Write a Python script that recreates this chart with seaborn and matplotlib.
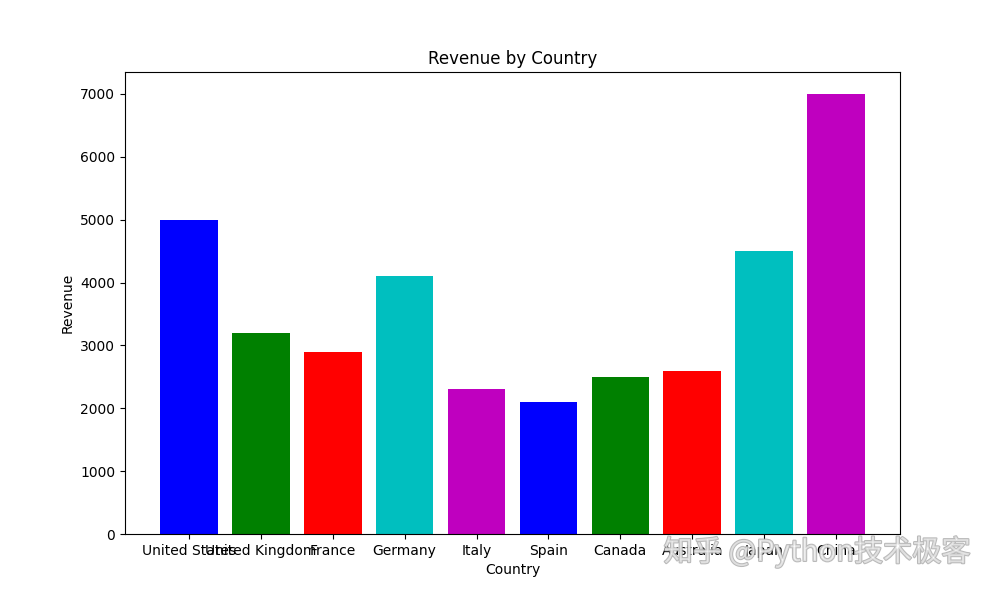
import matplotlib
matplotlib.use("Agg")
import matplotlib.pyplot as plt
import matplotlib.patheffects as pe
import seaborn as sns
import pandas as pd

# data
countries = ["United States", "United Kingdom", "France", "Germany", "Italy",
             "Spain", "Canada", "Australia", "Japan", "China"]
revenue = [5000, 3200, 2900, 4100, 2300, 2100, 2500, 2600, 4500, 7000]
bar_colors = ["b", "g", "r", "c", "m", "b", "g", "r", "c", "m"]

df = pd.DataFrame({"Country": countries, "Revenue": revenue})

fig, ax = plt.subplots(figsize=(10, 6), dpi=100)
sns.barplot(data=df, x="Country", y="Revenue", hue="Country",
            palette=bar_colors, legend=False, width=0.8, saturation=1, ax=ax)

# mimic plain matplotlib margins
ax.set_xlim(-0.89, 9.89)
ax.set_ylim(0, 7350)
ax.set_title("Revenue by Country")
ax.set_xlabel("Country")
ax.set_ylabel("Revenue")

# watermark
fig.text(0.817, 0.08, "知乎 @Python技术极客", ha="center", va="center",
         fontsize=21, color="white", alpha=0.55,
         family=["Noto Sans CJK SC", "DejaVu Sans"],
         path_effects=[pe.withStroke(linewidth=1.5, foreground="#a8a8a8", alpha=0.8)])

plt.savefig("out.png", dpi=100)
